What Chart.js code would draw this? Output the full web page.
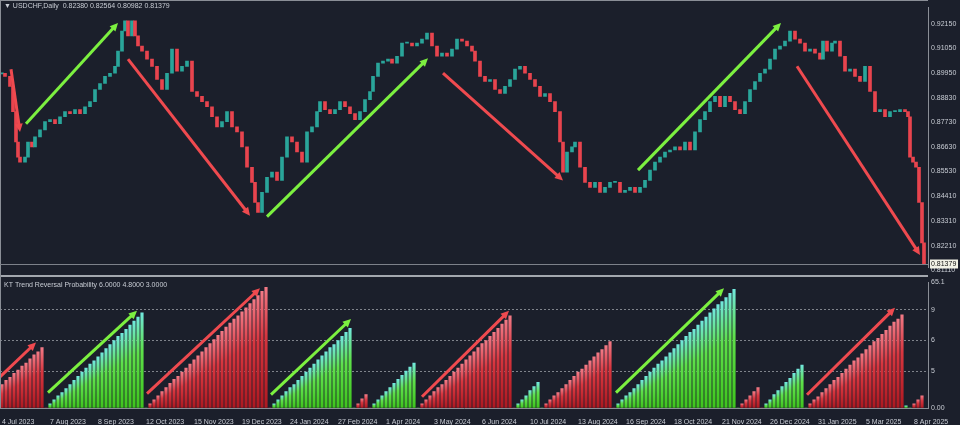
<!DOCTYPE html>
<html>
<head>
<meta charset="UTF-8" />
<title>USDCHF Daily</title>
<script src="https://cdn.jsdelivr.net/npm/chart.js"></script>
<style>
  html, body { margin: 0; padding: 0; background: #1b1f2b; }
  #wrap { position: relative; width: 960px; height: 425px; overflow: hidden; }
  #priceChart { position: absolute; left: 0; top: 0; }
  #indChart { position: absolute; left: 0; top: 275px; }
</style>
</head>
<body>
<div id="wrap">
  <canvas id="priceChart" width="960" height="275"></canvas>
  <canvas id="indChart" width="960" height="150"></canvas>
</div>
<script>
// candles: [trading day, close]; open = previous close
const firstOpen = 0.8990;
const candles = [
  [1,0.8993],[2.5,0.8979],[5,0.8934],[6.5,0.8821],[8,0.8685],[9,0.8617],[10,0.8595],[12.5,0.8617],
  [14,0.8685],[16,0.8663],[17.5,0.8708],[20,0.8739],[22.5,0.8776],[25,0.8785],[27.5,0.8767],[30,0.8798],
  [32.5,0.8821],[35,0.8812],[37.5,0.8830],[40,0.8812],[42.5,0.8843],[45,0.8866],[47.5,0.8920],[50,0.8947],
  [52.5,0.8979],[55,0.8993],[57.5,0.9024],[59,0.9092],[61,0.9182],[62.5,0.9228],[64,0.9160],[66,0.9228],
  [67.5,0.9160],[69,0.9115],[71,0.9092],[73.5,0.9056],[76,0.9024],[78.5,0.8965],[81,0.8920],[83.5,0.8993],
  [86,0.9101],[88.5,0.9002],[91,0.9024],[93.5,0.9047],[96,0.8911],[98.5,0.8889],[101,0.8866],[103.5,0.8843],
  [106,0.8798],[108.5,0.8753],[111,0.8776],[113.5,0.8821],[116,0.8753],[118.5,0.8730],[121,0.8663],[123.5,0.8572],
  [126,0.8504],[127.5,0.8414],[129,0.8369],[131,0.8459],[133.5,0.8527],[136,0.8550],[138.5,0.8513],[141,0.8617],
  [143.5,0.8708],[146,0.8685],[148.5,0.8640],[151,0.8595],[153.5,0.8730],[156,0.8753],[158.5,0.8821],[160,0.8866],
  [162.5,0.8830],[165,0.8812],[167.5,0.8830],[170,0.8866],[172.5,0.8843],[175,0.8812],[177.5,0.8785],[180,0.8821],
  [182.5,0.8875],[185,0.8911],[186.5,0.8979],[189,0.9038],[191.5,0.9047],[194,0.9056],[196,0.9038],[198.5,0.9069],
  [201,0.9128],[203.5,0.9128],[206,0.9115],[208.5,0.9128],[211,0.9146],[213.5,0.9173],[216,0.9115],[218.5,0.9069],
  [221,0.9083],[223.5,0.9069],[226,0.9101],[228.5,0.9146],[231,0.9137],[233.5,0.9115],[236,0.9092],[237.5,0.9047],
  [240,0.8979],[242.5,0.8956],[245,0.8965],[247.5,0.8920],[250,0.8902],[252.5,0.8934],[255,0.8965],[257.5,0.9011],
  [260,0.9024],[262.5,0.8993],[265,0.8965],[267.5,0.8934],[270,0.8889],[272.5,0.8902],[275,0.8866],[277.5,0.8821],
  [280,0.8685],[281.5,0.8550],[283.5,0.8640],[286,0.8663],[287.5,0.8685],[290,0.8572],[292.5,0.8504],[295,0.8482],
  [297.5,0.8504],[300,0.8459],[302.5,0.8482],[305,0.8504],[307.5,0.8504],[310,0.8459],[312.5,0.8468],[315,0.8482],
  [317.5,0.8459],[320,0.8482],[322.5,0.8513],[325,0.8559],[327.5,0.8595],[330,0.8617],[332.5,0.8640],[335,0.8649],
  [337.5,0.8663],[340,0.8649],[342.5,0.8685],[345,0.8649],[347.5,0.8730],[350,0.8785],[352.5,0.8821],[355,0.8866],
  [357.5,0.8889],[360,0.8843],[362.5,0.8889],[365,0.8866],[367.5,0.8830],[370,0.8812],[372.5,0.8866],[375,0.8920],
  [377.5,0.8956],[380,0.8993],[382.5,0.9011],[385,0.9056],[387.5,0.9101],[390,0.9115],[392.5,0.9137],[395,0.9182],
  [397.5,0.9146],[400,0.9128],[402.5,0.9092],[405,0.9101],[407.5,0.9083],[410,0.9056],[411.5,0.9137],[413.5,0.9092],
  [416,0.9128],[417.5,0.9137],[420,0.9069],[422.5,0.9002],[425,0.9011],[427.5,0.8979],[430,0.8956],[432.5,0.9024],
  [435,0.8911],[437.5,0.8821],[440,0.8830],[442.5,0.8798],[445,0.8821],[447.5,0.8821],[450,0.8830],[452.5,0.8821],
  [454,0.8798],[455,0.8617],[456.5,0.8595],[458,0.8572],[459.5,0.8414],[461,0.8233],[462,0.8138]
];
const priceTicks = [0.92150, 0.91050, 0.89950, 0.88830, 0.87730, 0.86630, 0.85530, 0.84410, 0.83310, 0.82210, 0.81110];
const lastPrice = 0.81379;
const titleText = 'USDCHF,Daily  0.82380 0.82564 0.80982 0.81379';
const indTitle = 'KT Trend Reversal Probability 6.0000 4.8000 3.0000';

// price arrows [day1, price1, day2, price2, colour]
const priceArrows = [
  [5.5,0.9011,10,0.8730,'r'], [13,0.8767,59,0.9218,'g'], [64,0.9056,125,0.8355,'r'],
  [133.5,0.8351,214,0.9060,'g'], [221.5,0.8993,281.5,0.8513,'r'], [319,0.8559,390.5,0.9218,'g'],
  [398.5,0.9024,460,0.8179,'r']
];

// indicator histogram, one bar every 2 trading days
const indValues = [
  2.3,2.7,3.0,3.4,3.7,4.1,4.4,4.8,5.2,5.5,5.9, 0,
  0.4,0.8,1.2,1.5,1.9,2.3,2.7,3.1,3.5,3.9,4.3,4.6,5.0,5.4,5.8,6.2,6.6,7.0,7.3,7.7,8.1,8.5,8.9,9.3, 0,
  0.4,0.8,1.2,1.6,2.0,2.4,2.8,3.1,3.5,3.9,4.3,4.7,5.1,5.5,5.9,6.3,6.7,7.1,7.5,7.9,8.3,8.7,9.0,9.4,9.8,10.2,10.6,11.0,11.4,11.8, 0,
  0.4,0.8,1.2,1.6,2.0,2.3,2.7,3.1,3.5,3.9,4.3,4.7,5.1,5.5,5.9,6.2,6.6,7.0,7.4,7.8, 0,
  0.4,0.9,1.3, 0,
  0.4,0.8,1.2,1.6,2.0,2.4,2.8,3.2,3.6,4.0,4.4, 0,
  0.4,0.8,1.2,1.6,2.0,2.3,2.7,3.1,3.5,3.9,4.3,4.7,5.1,5.5,5.9,6.3,6.6,7.0,7.4,7.8,8.2,8.6,9.0, 0,
  0.4,0.8,1.2,1.7,2.1,2.5, 0,
  0.4,0.8,1.2,1.5,1.9,2.3,2.7,3.1,3.5,3.8,4.2,4.6,5.0,5.4,5.7,6.1,6.5, 0,
  0.4,0.8,1.2,1.5,1.9,2.3,2.7,3.1,3.5,3.9,4.3,4.6,5.0,5.4,5.8,6.2,6.6,7.0,7.4,7.7,8.1,8.5,8.9,9.3,9.7,10.1,10.4,10.8,11.2,11.6, 0,
  0.4,0.8,1.2,1.6,2.0, 0,
  0.4,0.8,1.3,1.7,2.1,2.5,2.9,3.4,3.8,4.2, 0,
  0.4,0.8,1.1,1.5,1.9,2.3,2.7,3.0,3.4,3.8,4.2,4.6,4.9,5.3,5.7,6.1,6.5,6.8,7.2,7.6,8.0,8.4,8.7,9.1,
  0.2, 0,
  0.4,0.8,1.2
];
// colour runs for the histogram bars
const indRuns = [['r',12],['g',25],['r',31],['g',21],['r',4],['g',12],['r',24],['g',7],['r',18],['g',31],['r',6],['g',11],['r',24],['g',2],['r',3]];
const indLevels = [3.6, 6.6, 9.6];
const indLevelLabels = ['5', '6', '9'];
const indArrows = [
  [0,3.05,18,6.4,'r'], [24,1.5,68.5,9.5,'g'], [73.5,1.4,130,11.7,'r'], [135.5,1.3,175.5,8.7,'g'],
  [211,1.1,254.5,9.5,'r'], [308,1.5,362,11.7,'g'], [403.5,1.3,447.5,9.8,'r']
];
const dateTickDays = [1,25,49,73,97,121,145,169,193,217,241,265,289,313,337,361,385,409,433,457];
const dateLabels = ['4 Jul 2023','7 Aug 2023','8 Sep 2023','12 Oct 2023','15 Nov 2023','19 Dec 2023','24 Jan 2024',
  '27 Feb 2024','1 Apr 2024','3 May 2024','6 Jun 2024','10 Jul 2024','13 Aug 2024','16 Sep 2024','18 Oct 2024',
  '21 Nov 2024','26 Dec 2024','31 Jan 2025','5 Mar 2025','8 Apr 2025'];

const BG = '#1b1f2b', TXT = '#c8ccd4', FRAME = '#8a8e96';
const UP = '#2aa59a', DOWN = '#e8444e';
const ARROW = { r: '#ef4a4f', g: '#7cf040' };
const FONT = { family: 'Liberation Sans', size: 7 };
Chart.defaults.animation = false;
Chart.defaults.responsive = false;
Chart.defaults.devicePixelRatio = 1;

function drawArrows(chart, list) {
  const c = chart.ctx, xs = chart.scales.x, ys = chart.scales.y;
  c.save();
  list.forEach(a => {
    const x1 = xs.getPixelForValue(a[0]), y1 = ys.getPixelForValue(a[1]);
    const x2 = xs.getPixelForValue(a[2]), y2 = ys.getPixelForValue(a[3]);
    const ang = Math.atan2(y2 - y1, x2 - x1), h = 9;
    c.strokeStyle = c.fillStyle = ARROW[a[4]];
    c.lineWidth = 3;
    c.beginPath();
    c.moveTo(x1, y1);
    c.lineTo(x2 - Math.cos(ang) * h * 0.8, y2 - Math.sin(ang) * h * 0.8);
    c.stroke();
    c.beginPath();
    c.moveTo(x2, y2);
    c.lineTo(x2 - h * Math.cos(ang - 0.45), y2 - h * Math.sin(ang - 0.45));
    c.lineTo(x2 - h * Math.cos(ang + 0.45), y2 - h * Math.sin(ang + 0.45));
    c.closePath();
    c.fill();
  });
  c.restore();
}

// ---------- price chart ----------
const priceData = candles.map((k, i) => ({ x: k[0], y: [i === 0 ? firstOpen : candles[i - 1][1], k[1]] }));

new Chart(document.getElementById('priceChart'), {
  type: 'bar',
  data: {
    datasets: [{
      data: priceData,
      barThickness: 3,
      backgroundColor: ctx => {
        const r = ctx.raw; return r && r.y[1] >= r.y[0] ? UP : DOWN;
      },
      minBarLength: 1
    }]
  },
  options: {
    layout: { padding: { top: -4, bottom: 0, left: 0, right: 0 } },
    plugins: { legend: { display: false }, tooltip: { enabled: false } },
    scales: {
      x: { type: 'linear', min: 0, max: 464, offset: false, display: false },
      y: {
        position: 'right', min: 0.81215, max: 0.92887,
        afterFit: s => { s.width = 32; },
        afterBuildTicks: s => { s.ticks = priceTicks.map(v => ({ value: v })); },
        ticks: { color: TXT, font: FONT, padding: 3, callback: v => v.toFixed(5) },
        grid: { display: false, drawTicks: false },
        border: { color: FRAME }
      }
    }
  },
  plugins: [{
    id: 'decor',
    beforeDraw: ch => {
      const c = ch.ctx; c.save(); c.fillStyle = BG; c.fillRect(0, 0, ch.width, ch.height); c.restore();
    },
    afterDatasetsDraw: ch => {
      const c = ch.ctx, a = ch.chartArea, ys = ch.scales.y;
      c.save();
      c.strokeStyle = FRAME; c.lineWidth = 1;
      c.beginPath(); c.moveTo(0, 0.5); c.lineTo(a.right, 0.5); c.moveTo(0.5, 0); c.lineTo(0.5, ch.height); c.stroke();
      const yp = Math.round(ys.getPixelForValue(lastPrice)) + 0.5;
      c.strokeStyle = '#7d818a';
      c.beginPath(); c.moveTo(0, yp); c.lineTo(a.right, yp); c.stroke();
      c.restore();
      drawArrows(ch, priceArrows);
      c.save();
      c.font = '7px "Liberation Sans"'; c.textBaseline = 'middle';
      c.fillStyle = '#f2f2e6'; c.fillRect(a.right + 2, yp - 5, 28, 9);
      c.fillStyle = '#111'; c.fillText(lastPrice.toFixed(5), a.right + 3, yp);
      c.fillStyle = TXT;
      c.fillText('\u25BC ' + titleText, 4, 6);
      c.restore();
    }
  }]
});

// ---------- indicator chart ----------
const indColors = [];
indRuns.forEach(r => { for (let i = 0; i < r[1]; i++) indColors.push(r[0]); });
const indData = indValues.map((v, i) => ({ x: 1 + i * 2, y: v }));
const RED_STOPS = ['#ad1820', '#d8363f', '#f27a86'];
const GREEN_STOPS = ['#3ec41c', '#5ee04a', '#72e8de'];

new Chart(document.getElementById('indChart'), {
  type: 'bar',
  data: {
    datasets: [{
      data: indData,
      barThickness: 2.5,
      backgroundColor: ctx => {
        const ch = ctx.chart;
        if (!ch.chartArea || !ctx.raw) return DOWN;
        const ys = ch.scales.y;
        const y0 = ys.getPixelForValue(0), y1 = ys.getPixelForValue(Math.max(ctx.raw.y, 0.1));
        const st = indColors[ctx.dataIndex] === 'g' ? GREEN_STOPS : RED_STOPS;
        const g = ch.ctx.createLinearGradient(0, y0, 0, y1);
        g.addColorStop(0, st[0]); g.addColorStop(0.6, st[1]); g.addColorStop(1, st[2]);
        return g;
      }
    }]
  },
  options: {
    layout: { padding: { top: 3, bottom: 0, left: 0, right: 0 } },
    plugins: { legend: { display: false }, tooltip: { enabled: false } },
    scales: {
      x: {
        type: 'linear', min: 0, max: 464, offset: false,
        afterFit: s => { s.height = 17; },
        afterBuildTicks: s => { s.ticks = dateTickDays.map(v => ({ value: v })); },
        ticks: {
          color: TXT, font: FONT, align: 'start', maxRotation: 0, autoSkip: false, padding: 2,
          callback: (v, i) => dateLabels[i]
        },
        grid: { display: false },
        border: { color: FRAME }
      },
      y: {
        position: 'right', min: 0, max: 12.3,
        afterFit: s => { s.width = 32; },
        afterBuildTicks: s => { s.ticks = [0].concat(indLevels, [12.3]).map(v => ({ value: v })); },
        ticks: {
          color: TXT, font: FONT, padding: 3,
          callback: (v, i) => i === 0 ? '0.00' : (i === 4 ? '65.1' : indLevelLabels[i - 1])
        },
        grid: {
          drawTicks: false,
          color: c => (c.index > 0 && c.index < 4) ? '#7f838b' : 'rgba(0,0,0,0)'
        },
        border: { color: FRAME, dash: [2, 2] }
      }
    }
  },
  plugins: [{
    id: 'decor2',
    beforeDraw: ch => {
      const c = ch.ctx; c.save(); c.fillStyle = BG; c.fillRect(0, 0, ch.width, ch.height); c.restore();
    },
    afterDatasetsDraw: ch => {
      const c = ch.ctx, a = ch.chartArea;
      drawArrows(ch, indArrows);
      c.save();
      c.fillStyle = '#a3a7ae'; c.fillRect(0, 0, a.right, 2);
      c.strokeStyle = FRAME; c.beginPath(); c.moveTo(0.5, 0); c.lineTo(0.5, a.bottom); c.stroke();
      c.font = '7px "Liberation Sans"'; c.textBaseline = 'middle'; c.fillStyle = TXT;
      c.fillText(indTitle, 4, 10);
      c.restore();
    }
  }]
});
</script>
</body>
</html>
